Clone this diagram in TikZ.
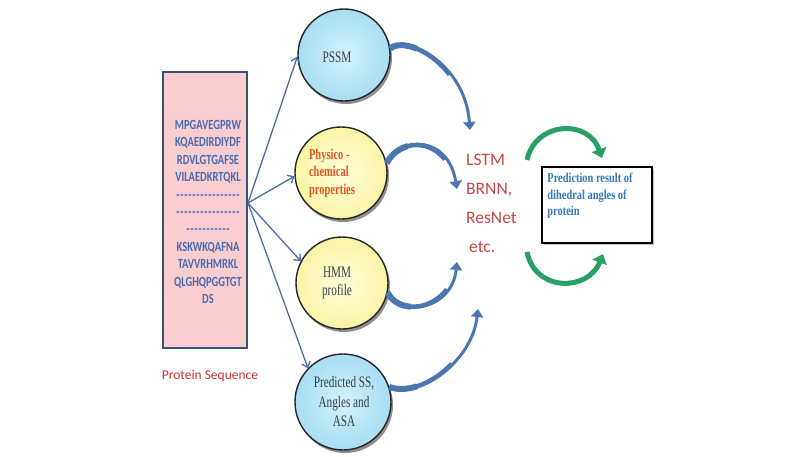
\documentclass[tikz,border=0pt]{standalone}
\usepackage{fontspec}
\setmainfont{Liberation Serif}
\newfontfamily\seqfont{Carlito}[FakeStretch=0.75]
\newfontfamily\calib{Carlito}
\newfontfamily\cserif{Liberation Serif}[FakeStretch=0.7]
\newfontfamily\rserif{Liberation Serif}[FakeStretch=0.77]
\usetikzlibrary{arrows.meta,shadows,calc}
\definecolor{seqblue}{RGB}{72,108,178}
\definecolor{pinkfill}{RGB}{250,206,208}
\definecolor{boxedge}{RGB}{60,80,120}
\definecolor{arrowblue}{RGB}{74,111,165}
\definecolor{curveblue}{RGB}{76,118,178}
\definecolor{labred}{RGB}{208,48,48}
\definecolor{modelred}{RGB}{200,70,70}
\definecolor{physred}{RGB}{226,84,36}
\definecolor{darktext}{RGB}{55,62,72}
\definecolor{resblue}{RGB}{50,120,190}
\definecolor{greenarr}{RGB}{38,160,100}
\definecolor{bluein}{RGB}{210,242,253}
\definecolor{blueout}{RGB}{168,222,244}
\definecolor{yellin}{RGB}{255,254,220}
\definecolor{yellout}{RGB}{249,244,165}
\tikzset{
  feat/.style={circle, minimum size=92pt, inner sep=0pt, draw=black!85, line width=1.4pt,
    drop shadow={shadow xshift=2pt, shadow yshift=-3pt, opacity=0.55, fill=black!80}},
  bluefeat/.style={feat, shade, inner color=bluein, outer color=blueout},
  yellfeat/.style={feat, shade, inner color=yellin, outer color=yellout},
  featfont/.style={font=\cserif\fontsize{16}{18}\selectfont, text=darktext, align=center},
  inarrow/.style={draw=arrowblue, line width=1.3pt, -{Straight Barb[length=5pt,width=9pt,line width=1.3pt]}},
  curvearrow/.style={draw=curveblue, line width=3pt, -{Triangle[length=8pt,width=12pt]}},
  curvethick/.style={draw=curveblue, line width=4.6pt, dash pattern=on 70pt off 900pt},
  curvethicker/.style={draw=curveblue, line width=6pt, dash pattern=on 28pt off 900pt},
  greenarrow/.style={draw=greenarr, line width=5pt, -{Triangle[length=9pt,width=15pt]}},
}
\begin{document}
\begin{tikzpicture}[x=1pt,y=-1pt]
\useasboundingbox (0,0) rectangle (809,456);
\fill[white] (0,0) rectangle (809,456);

% sequence box
\node[draw=boxedge, line width=1.5pt, fill=pinkfill, minimum width=84pt, minimum height=276pt, inner sep=0pt] (seq) at (205,210) {};
\node[font=\seqfont\bfseries\fontsize{14}{17.4}\selectfont, text=seqblue, align=center, inner sep=0pt] (seqtxt) at (208,212)
 {MPGAVEGPRW\\KQAEDIRDIYDF\\RDVLGTGAFSE\\VILAEDKRTQKL\\
  -\kern.8pt-\kern.8pt-\kern.8pt-\kern.8pt-\kern.8pt-\kern.8pt-\kern.8pt-\kern.8pt-\kern.8pt-\kern.8pt-\kern.8pt-\kern.8pt-\kern.8pt-\kern.8pt-\kern.8pt-\\
  -\kern.8pt-\kern.8pt-\kern.8pt-\kern.8pt-\kern.8pt-\kern.8pt-\kern.8pt-\kern.8pt-\kern.8pt-\kern.8pt-\kern.8pt-\kern.8pt-\kern.8pt-\kern.8pt-\kern.8pt-\\
  -\kern.8pt-\kern.8pt-\kern.8pt-\kern.8pt-\kern.8pt-\kern.8pt-\kern.8pt-\kern.8pt-\kern.8pt-\kern.8pt-\\
  KSKWKQAFNA\\TAVVRHMRKL\\QLGHQPGGTGT\\DS};
\node[font=\calib\fontsize{13.5}{16}\selectfont, text=labred] (seqlab) at (210,376) {Protein Sequence};

% feature circles
\node[bluefeat] (pssm) at (344,55) {};
\node[featfont] at ($(pssm.center)+(-7,2)$) {PSSM};
\node[yellfeat] (phys) at (341,173) {};
\node[featfont, font=\cserif\bfseries\fontsize{15}{17.5}\selectfont, text=physred, align=left] at ($(phys.center)+(-9,0)$) {Physico -\\chemical\\properties};
\node[yellfeat] (hmm) at (342,283) {};
\node[featfont] at ($(hmm.center)+(-5,0)$) {HMM\\profile};
\node[bluefeat, minimum size=96pt] (pred) at (343,402) {};
\node[featfont, font=\cserif\fontsize{16}{19.5}\selectfont] at ($(pred.center)+(1,0)$) {Predicted SS,\\Angles and\\ASA};

% hub arrows
\coordinate (hub) at (248,203);
\draw[inarrow] (hub) -- (pssm.182);
\draw[inarrow] (hub) -- (phys.184);
\draw[inarrow] (hub) -- (hmm.152);
\draw[inarrow] (hub) -- (pred.136);

% models
\node[font=\calib\fontsize{17.5}{29}\selectfont, text=modelred, align=left, anchor=west, inner sep=0pt] (model) at (466,203)
 {LSTM\\BRNN,\\ResNet\\\hspace*{3pt}etc.};

\coordinate (m1) at (470,130);
\coordinate (m2) at (457,189);
\coordinate (m3) at (457,262);
\coordinate (m4) at (478,309);
\foreach \sty in {curvearrow,curvethick,curvethicker}{
  \draw[\sty] (pssm.8) .. controls (405,35) and (465,62) .. (m1);
  \draw[\sty] (phys.12) .. controls (400,136) and (448,135) .. (m2);
  \draw[\sty] (hmm.-12) .. controls (400,318) and (452,310) .. (m3);
  \draw[\sty] (pred.18) .. controls (420,398) and (472,362) .. (m4);
}

% result
\node[draw=black, line width=1.5pt, fill=white, minimum width=110pt, minimum height=76pt, inner sep=0pt,
  drop shadow={shadow xshift=1.5pt, shadow yshift=-1.5pt, opacity=0.4, fill=black!60}] (result) at (597,205) {};
\node[font=\rserif\bfseries\fontsize{13.5}{16.5}\selectfont, text=resblue, align=left, anchor=north west, inner sep=0pt] (restxt)
  at ($(result.north west)+(6,7)$) {Prediction result of\\dihedral angles of\\protein};

\coordinate (g1s) at (527,160);
\coordinate (g1e) at (602,158);
\coordinate (g2s) at (527,252);
\coordinate (g2e) at (603,254);
\draw[greenarrow] (g1s) .. controls (535,122) and (588,118) .. (g1e);
\draw[greenarrow] (g2s) .. controls (535,292) and (588,292) .. (g2e);
\end{tikzpicture}
\end{document}
